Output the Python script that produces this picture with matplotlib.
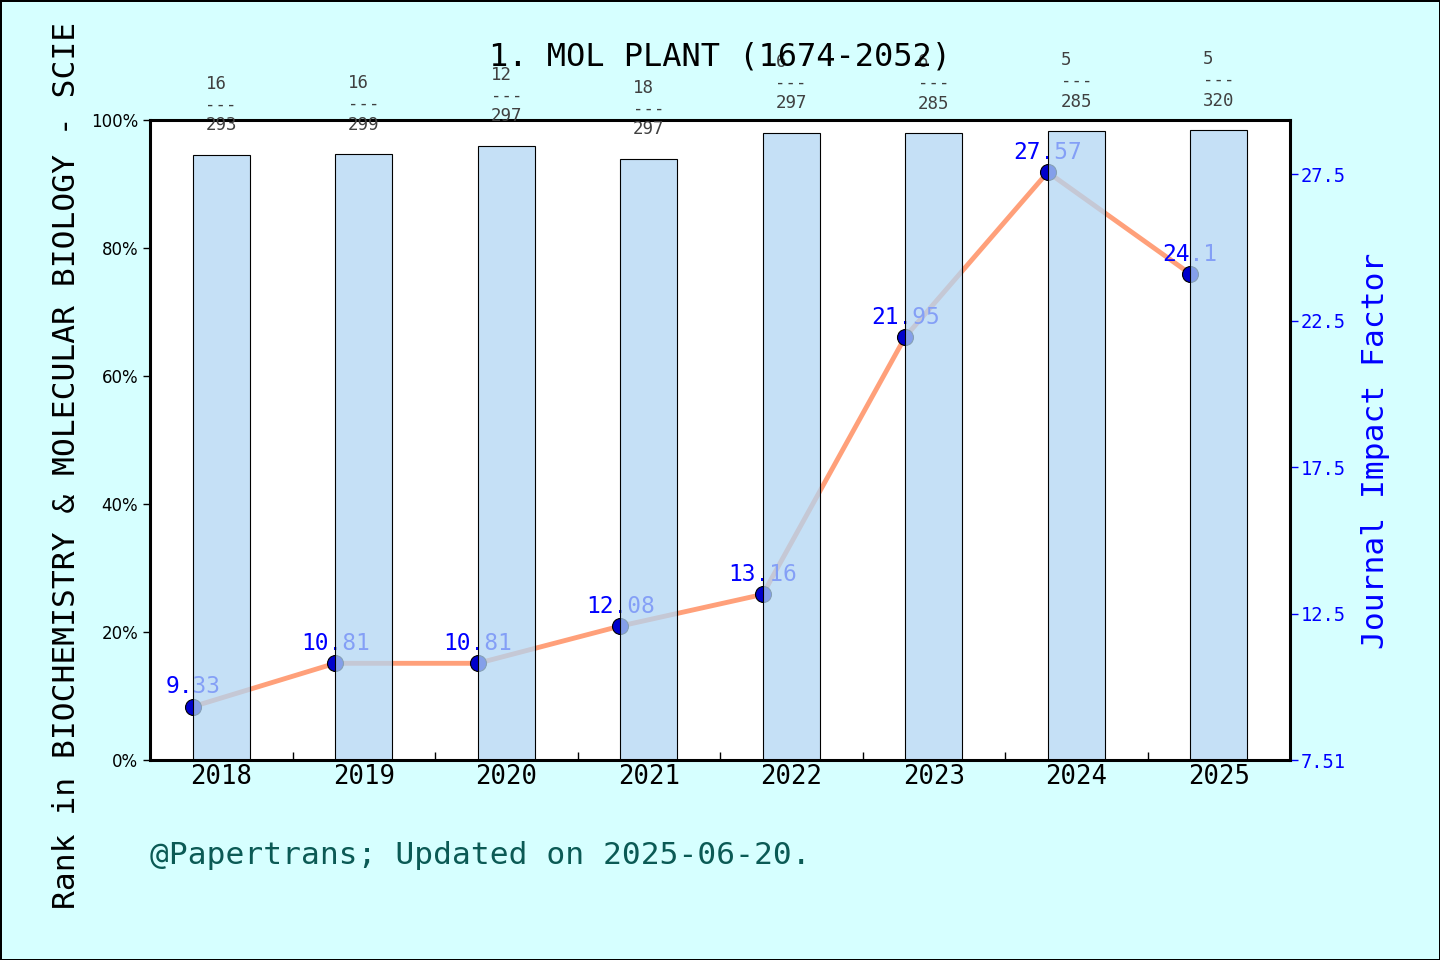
import matplotlib.pyplot as plt
import numpy as np

# data
years = ['2018', '2019', '2020', '2021', '2022', '2023', '2024', '2025']
rank = [16, 16, 12, 18, 6, 6, 5, 5]
total = [293, 299, 297, 297, 297, 285, 285, 320]
impact = [9.33, 10.81, 10.81, 12.08, 13.16, 21.95, 27.57, 24.1]
if_ticks = [7.51, 12.5, 17.5, 22.5, 27.5]

mono = 'DejaVu Sans Mono'
pct = [1 - r / t for r, t in zip(rank, total)]
x = np.arange(len(years))

fig = plt.figure(figsize=(14.4, 9.6), dpi=100, facecolor='#D6FFFF',
                 edgecolor='black', linewidth=1)
ax = fig.add_axes([150 / 1440, 1 - 760 / 960, 1140 / 1440, 640 / 960])
axr = ax.twinx()
# bars sit on top of the line (semi transparent)
ax.set_zorder(axr.get_zorder() + 1)
ax.patch.set_visible(False)
axr.patch.set_visible(True)
axr.patch.set_facecolor('white')

# impact factor line
axr.plot(x, impact, color='#FFA07A', lw=3.5, marker='o', ms=11.5,
         mfc='mediumblue', mec='black', mew=0.8)
for xi, v in zip(x, impact):
    axr.annotate(f'{v:g}', (xi, v), xytext=(0, 6), textcoords='offset points',
                 ha='center', va='bottom', color='blue', fontsize=16.5, family=mono)
axr.set_ylim(7.51, 29.35)
axr.set_yticks(if_ticks)
axr.set_yticklabels([f'{v:g}' for v in if_ticks], family=mono, fontsize=13.5)
axr.tick_params(axis='y', colors='blue', length=6, width=1, pad=2)
for s in axr.spines.values():
    s.set_visible(False)

# rank bars
ax.bar(x, pct, width=0.4, align='edge', color=(178 / 255, 214 / 255, 244 / 255, 0.75),
       edgecolor='black', linewidth=0.8)
for xi, p, r, t in zip(x, pct, rank, total):
    ax.text(xi + 0.2, p + 0.032, f'{r}\n---\n{t}', ha='center', va='bottom',
            multialignment='left', fontsize=12.5, family=mono, color='#404040',
            clip_on=False)

ax.set_xlim(-0.3, 7.7)
ax.set_ylim(0, 1)
ax.set_yticks(np.arange(0, 1.01, 0.2))
ax.set_yticklabels([f'{int(round(v * 100))}%' for v in np.arange(0, 1.01, 0.2)])
ax.tick_params(axis='y', labelsize=12, length=5, width=1)
ax.set_xticks(x + 0.2)
ax.set_xticklabels(years, family=mono)
ax.tick_params(axis='x', which='major', length=0, labelsize=18.5, pad=3)
ax.set_xticks(x[:-1] + 0.7, minor=True)
ax.tick_params(axis='x', which='minor', direction='in', length=6, width=1)
for s in ax.spines.values():
    s.set_linewidth(2.2)

fig.text(0.5, 1 - 57 / 960, '1. MOL PLANT (1674-2052)', ha='center', va='center',
         fontsize=23, family=mono)
fig.text(67 / 1440, 1 - 465 / 960, 'Rank in BIOCHEMISTRY & MOLECULAR BIOLOGY - SCIE',
         rotation=90, ha='center', va='center', fontsize=22.5, family=mono)
fig.text(1375 / 1440, 1 - 451 / 960, 'Journal Impact Factor', rotation=90,
         ha='center', va='center', fontsize=22.5, family=mono, color='blue')
fig.text(150 / 1440, 1 - 855 / 960, '@Papertrans; Updated on 2025-06-20.',
         ha='left', va='center', fontsize=22.5, family=mono, color='#0B5A55')

fig.savefig('out.png', dpi=100, facecolor=fig.get_facecolor())
